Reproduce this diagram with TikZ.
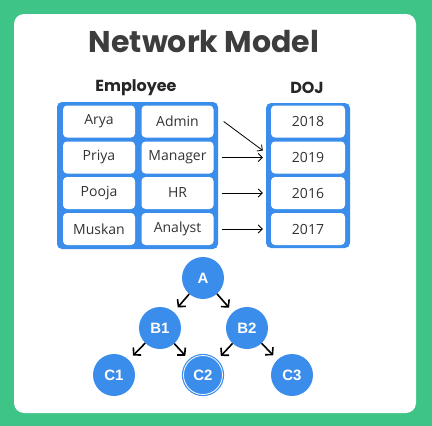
\documentclass[tikz,border=0pt]{standalone}
\usepackage{fontspec}
\setmainfont{Open Sans}
\newfontfamily\titlefont{Poppins}
\newfontfamily\letterfont{Liberation Sans}
\usetikzlibrary{arrows.meta}

\definecolor{bggreen}{RGB}{61,196,134}
\definecolor{cellblue}{RGB}{59,141,236}
\definecolor{textgray}{RGB}{51,51,51}
\definecolor{titlegray}{RGB}{61,61,61}

\tikzset{
  cell/.style={fill=white, rounded corners=4pt, minimum width=72pt, minimum height=32pt,
    inner sep=0pt, text=textgray, font=\fontsize{14}{16}\selectfont},
  frame/.style={fill=cellblue, rounded corners=5pt},
  heading/.style={text=black!85, font=\titlefont\bfseries\fontsize{16}{18}\selectfont},
  treenode/.style={circle, fill=cellblue, minimum size=42pt, inner sep=0pt, text=white,
    font=\letterfont\bfseries\fontsize{15}{17}\selectfont},
  ringnode/.style={treenode, minimum size=39pt, draw=cellblue, double=white,
    line width=1.2pt, double distance=0.8pt},
  link/.style={-{Straight Barb[length=4pt,width=8pt]}, line width=0.8pt},
  branch/.style={-{Straight Barb[length=5pt,width=11pt]}, line width=1.6pt, shorten >=6pt},
}

\begin{document}
\begin{tikzpicture}[x=1pt, y=-1pt]
  % background and card
  \fill[bggreen] (0,0) rectangle (432,426);
  \fill[white, rounded corners=10pt] (14,14) rectangle (416,413);

  \node[text=titlegray, font=\titlefont\bfseries\fontsize{30}{34}\selectfont] (title) at (204,42) {Network Model};
  \node[heading] (emphead) at (136,88) {Employee};
  \node[heading] (dojhead) at (307,88) {DOJ};

  % tables
  \fill[frame] (57,102) rectangle (218,249);
  \fill[frame] (266,103) rectangle (350,248);
  \foreach \name/\role/\year/\y [count=\i] in {Arya/Admin/2018/121.5, Priya/Manager/2019/157.5,
      Pooja/HR/2016/193, Muskan/Analyst/2017/229} {
    \node[cell] (e\i) at (99,\y) {\name};
    \node[cell] (r\i) at (177.5,\y) {\role};
    \node[cell, minimum width=74pt] (d\i) at (308,\y) {\year};
  }
  \draw[link] ([xshift=10pt]r1.east) -- ([xshift=-8pt,yshift=7pt]d2.west);
  \foreach \i in {2,3,4} {
    \draw[link, shorten <=8pt, shorten >=8pt] (r\i) -- (d\i);
  }

  % tree
  \node[treenode] (a) at (203,278) {A};
  \node[treenode] (b1) at (160,328) {B1};
  \node[treenode] (b2) at (247,328) {B2};
  \node[treenode] (c1) at (114,375) {C1};
  \node[ringnode] (c2) at (203,375) {C2};
  \node[treenode] (c3) at (292,375) {C3};
  \draw[branch] (a) -- (b1);
  \draw[branch] (a) -- (b2);
  \draw[branch] (b1) -- (c1);
  \draw[branch] (b1) -- (c2);
  \draw[branch] (b2) -- (c2);
  \draw[branch] (b2) -- (c3);
\end{tikzpicture}
\end{document}
